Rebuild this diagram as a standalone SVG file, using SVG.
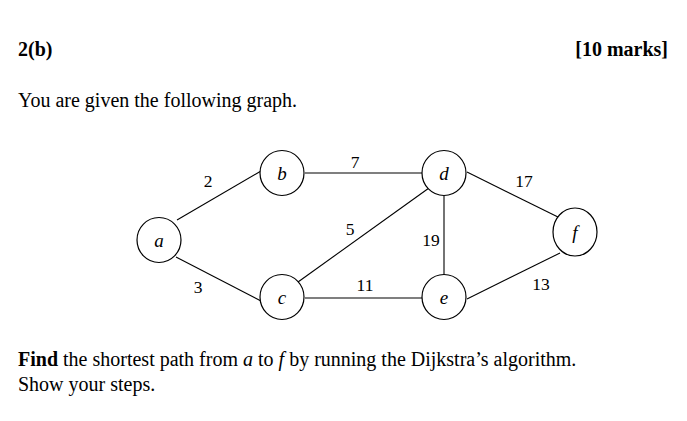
<svg xmlns="http://www.w3.org/2000/svg" width="687" height="421" viewBox="0 0 687 421">
<style>
text{font-family:"Liberation Serif","Times New Roman",serif;fill:#000}
.t{font-size:20px}
.b{font-weight:bold}
.n{fill:#fff;stroke:#000;stroke-width:1.2}
.l{font-size:17.5px;text-anchor:middle}
.v{font-size:19px;font-style:italic;text-anchor:middle}
#edges line{stroke:#000;stroke-width:1.1}
</style>
<rect width="687" height="421" fill="#fff"/>
<text class="t b" x="18" y="56">2(b)</text>
<text class="t b" x="668" y="56" text-anchor="end">[10 marks]</text>
<text class="t" x="18" y="107">You are given the following graph.</text>
<g id="edges">
<line x1="177" y1="220" x2="261" y2="171"/>
<line x1="305" y1="173" x2="422" y2="173"/>
<line x1="176" y1="257" x2="261" y2="301"/>
<line x1="298" y1="282" x2="429" y2="188"/>
<line x1="444" y1="196" x2="444" y2="275"/>
<line x1="305" y1="298" x2="422" y2="298"/>
<line x1="467" y1="172" x2="560" y2="218"/>
<line x1="467" y1="299" x2="560" y2="253"/>
<text class="l" x="208" y="187">2</text>
<text class="l" x="355" y="168">7</text>
<text class="l" x="524" y="187">17</text>
<text class="l" x="350" y="235">5</text>
<text class="l" x="431" y="246">19</text>
<text class="l" x="198" y="293">3</text>
<text class="l" x="365" y="291">11</text>
<text class="l" x="541" y="290">13</text>
</g>
<g id="a"><ellipse class="n" cx="159" cy="240" rx="22" ry="22.5"/><text class="v" x="159" y="247">a</text></g>
<g id="b"><ellipse class="n" cx="282" cy="173" rx="22" ry="22.5"/><text class="v" x="282" y="180">b</text></g>
<g id="c"><ellipse class="n" cx="282" cy="297" rx="22" ry="22.5"/><text class="v" x="282" y="304">c</text></g>
<g id="d"><ellipse class="n" cx="444" cy="173" rx="22" ry="22.5"/><text class="v" x="444" y="180">d</text></g>
<g id="e"><ellipse class="n" cx="444" cy="297" rx="22" ry="22.5"/><text class="v" x="444" y="304">e</text></g>
<g id="f"><ellipse class="n" cx="575" cy="232" rx="22" ry="24"/><text class="v" x="575" y="239">f</text></g>
<text class="t" x="18" y="366"><tspan class="b">Find</tspan> the shortest path from <tspan font-style="italic">a</tspan> to <tspan font-style="italic">f</tspan> by running the Dijkstra’s algorithm.</text>
<text class="t" x="18" y="391">Show your steps.</text>
</svg>
